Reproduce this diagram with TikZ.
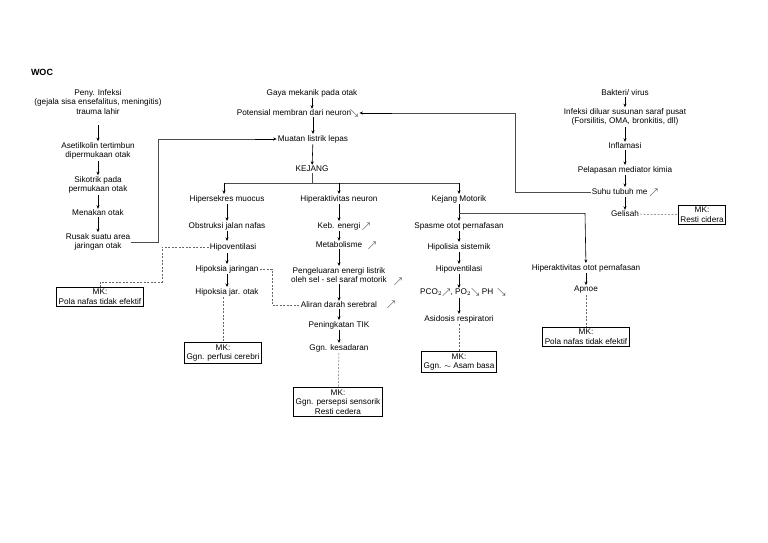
\documentclass[tikz,border=0pt]{standalone}
\usepackage{fontspec}
\setmainfont{Liberation Sans}
\usetikzlibrary{arrows.meta}
\begin{document}
\begin{tikzpicture}[x=1pt,y=-1pt,
  t/.style={font=\fontsize{8.2}{9.6}\selectfont,align=center,inner sep=1pt},
  mk/.style={t,draw,line width=0.7pt,inner sep=2pt},
  ar/.style={-{Stealth[length=3.5pt,width=3pt]},line width=0.6pt},
  ln/.style={line width=0.8pt,black!70},
  dl/.style={dashed,black!60,line width=0.5pt,dash pattern=on 2pt off 1.5pt}]
\useasboundingbox (0,0) rectangle (768,543);
\node[font=\bfseries\fontsize{9}{10}\selectfont\rmfamily] (woc) at (42,72) {WOC};
% left column
\node[t] (peny) at (98,102) {Peny. Infeksi\\(gejala sisa ensefalitus, meningitis)\\trauma lahir};
\node[t] (aset) at (98,151) {Asetilkolin tertimbun\\dipermukaan otak};
\node[t] (siko) at (98,185) {Sikotrik pada\\permukaan otak};
\node[t] (mena) at (98,213) {Menakan otak};
\node[t] (rusa) at (98,242) {Rusak suatu area\\jaringan otak};
\draw[ar] (98,125) -- (aset);
\draw[ar] (aset) -- (siko);
\draw[ar] (siko) -- (mena);
\draw[ar] (mena) -- (rusa);
% middle top
\node[t] (gaya) at (312,93) {Gaya mekanik pada otak};
\node[t] (pote) at (294,113) {Potensial membran dari neuron};
\node[t] (potd) at (354,113) {$\searrow$};
\node[t] (muat) at (313,139) {Muatan listrik lepas};
\node[t] (keja) at (312,169) {KEJANG};
\draw[ar] (gaya) -- (gaya|-pote.north);
\draw[ar] (pote.south-|muat) -- (muat);
\draw[ar] (muat) -- (keja);
\draw[ln] (rusa.east) -- (158,242) -- (158,139);
\draw[ln] (158,139) -- (255,139);
\draw[ar] (255,139) -- (muat.west);
% branches
\node[t] (hips) at (227,199) {Hipersekres muocus};
\node[t] (hipn) at (339,199) {Hiperaktivitas neuron};
\node[t] (kejm) at (459,199) {Kejang Motorik};
\draw[ln] (keja.south) -- (keja.south|-0,183);
\draw[ln] (224,183) -- (459,183);
\draw[ar] (224,183) -- (hips.north-|224,0);
\draw[ar] (339,183) -- (hipn);
\draw[ar] (459,183) -- (kejm);
% column 1
\node[t] (obst) at (227,226) {Obstruksi jalan nafas};
\node[t] (hipv) at (233,247) {Hipoventilasi};
\node[t] (hpkj) at (227,269) {Hipoksia jaringan};
\node[t] (hpko) at (227,292) {Hipoksia jar. otak};
\draw[ar] (hips) -- (obst);
\draw[ar] (obst) -- (227,241);
\draw[ar] (227,253) -- (hpkj);
\draw[ar] (hpkj) -- (hpko);
\node[mk] (mkpn) at (100,297) {MK:\\Pola nafas tidak efektif};
\node[mk] (mkgp) at (223,353) {MK:\\Ggn. perfusi cerebri};
\draw[dl] (hipv.west) -- (162,247) -- (162,282) -- (100,282) -- (mkpn.north);
\draw[dl] (hpko.south-|223,0) -- (mkgp.north);
% column 2
\node[t] (kebe) at (339,226) {Keb. energi};
\node[t] (kebu) at (366,226) {$\nearrow$};
\node[t] (meta) at (339,245) {Metabolisme};
\node[t] (metu) at (372,245) {$\nearrow$};
\node[t] (peng) at (339,275) {Pengeluaran energi listrik\\oleh sel - sel saraf motorik};
\node[t] (pengu) at (398,281) {$\nearrow$};
\node[t] (alir) at (339,305) {Aliran darah serebral};
\node[t] (aliru) at (391,304) {$\nearrow$};
\node[t] (peni) at (339,325) {Peningkatan TIK};
\node[t] (ggnk) at (339,348) {Ggn. kesadaran};
\node[mk] (mkgs) at (338,402) {MK:\\Ggn. persepsi sensorik\\Resti cedera};
\draw[ar] (hipn) -- (kebe);
\draw[ar] (kebe) -- (meta);
\draw[ar] (meta) -- (peng);
\draw[ar] (peng) -- (alir);
\draw[ar] (alir) -- (peni);
\draw[ar] (peni) -- (ggnk);
\draw[dl] (ggnk) -- (mkgs);
\draw[dl] (hpkj.east) -- (272,269) -- (272,305) -- (alir.west);
% column 3
\node[t] (spas) at (459,226) {Spasme otot pernafasan};
\node[t] (hipl) at (459,247) {Hipolisia sistemik};
\node[t] (hiv2) at (459,269) {Hipoventilasi};
\node[t] (pco) at (463,292) {PCO$_2$$\nearrow$, PO$_2$$\searrow$ PH\enspace$\searrow$};
\node[t] (asid) at (459,319) {Asidosis respiratori};
\node[mk] (mkab) at (459,362) {MK:\\Ggn. $\sim$ Asam basa};
\draw[ar] (kejm) -- (spas);
\draw[ar] (spas) -- (hipl);
\draw[ar] (hipl) -- (hiv2);
\draw[ar] (hiv2) -- (459,288);
\draw[ar] (459,298) -- (asid);
\draw[dl] (asid) -- (mkab);
% column 4
\node[t] (hipo) at (586,268) {Hiperaktivitas otot pernafasan};
\node[t] (apno) at (586,290) {Apnoe};
\node[mk] (mkp2) at (586,337) {MK:\\Pola nafas tidak efektif};
\draw[ln] (459,213) -- (585,213);
\draw[ar] (585,213) -- (hipo);
\draw[ar] (hipo) -- (apno);
\draw[dl] (apno) -- (mkp2);
% right column
\node[t] (bakt) at (625,93) {Bakteri/ virus};
\node[t] (infk) at (625,117) {Infeksi diluar susunan saraf pusat\\(Forsilitis, OMA, bronkitis, dll)};
\node[t] (infl) at (625,146) {Inflamasi};
\node[t] (pela) at (625,170) {Pelapasan mediator kimia};
\node[t] (suhu) at (625,192) {Suhu tubuh me $\nearrow$};
\node[t] (geli) at (625,214) {Gelisah};
\node[mk] (mkrc) at (702,215) {MK:\\Resti cidera};
\draw[ar] (bakt) -- (infk);
\draw[ar] (infk) -- (infl);
\draw[ar] (infl) -- (pela);
\draw[ar] (pela) -- (suhu);
\draw[ar] (suhu) -- (geli);
\draw[dl] (geli) -- (mkrc);
\draw[ln] (suhu.west) -- (515,192) -- (515,113) -- (392,113);
\draw[ar] (392,113) -- (potd.east);
\end{tikzpicture}
\end{document}
